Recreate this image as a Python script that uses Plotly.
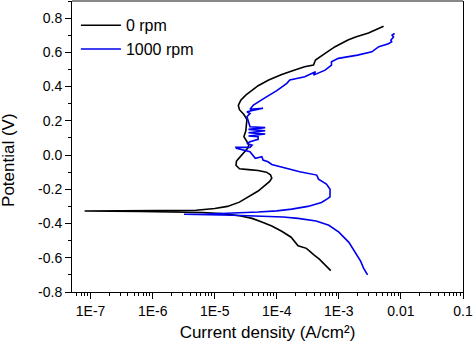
import plotly.graph_objects as go

# ---- data (current density A/cm^2, potential V) ----
rpm0_i = [7.4e-4, 5.6e-4, 4.8e-4, 4.0e-4, 3.3e-4, 3.0e-4, 2.2e-4, 1.7e-4, 1.2e-4, 8.3e-5,
          5.6e-5, 4.0e-5, 2.5e-5, 1.9e-5, 1.26e-5, 6.3e-6, 2.5e-6, 6.3e-7, 8.0e-8,
          6.3e-7, 2.5e-6, 5.0e-6, 1.0e-5, 1.6e-5, 2.5e-5, 3.5e-5, 5.0e-5, 6.3e-5, 7.6e-5,
          8.3e-5, 7.9e-5, 6.8e-5, 5.0e-5, 3.5e-5, 2.5e-5, 2.2e-5, 2.24e-5, 2.5e-5, 3.0e-5,
          3.4e-5, 3.55e-5, 3.3e-5, 2.95e-5, 3.16e-5, 3.24e-5, 3.3e-5, 2.95e-5, 2.5e-5, 2.4e-5,
          2.63e-5, 3.16e-5, 3.98e-5, 5.0e-5, 7.4e-5, 1.2e-4, 2.0e-4, 2.8e-4, 3.9e-4, 4.2e-4,
          6.0e-4, 8.7e-4, 1.4e-3, 1.86e-3, 3.0e-3, 4.9e-3, 5.25e-3]
rpm0_v = [-0.675, -0.630, -0.607, -0.585, -0.560, -0.545, -0.530, -0.480, -0.445, -0.415,
          -0.390, -0.370, -0.355, -0.350, -0.342, -0.336, -0.332, -0.329, -0.327,
          -0.326, -0.325, -0.322, -0.312, -0.300, -0.275, -0.245, -0.210, -0.180, -0.155,
          -0.135, -0.115, -0.100, -0.090, -0.085, -0.080, -0.060, -0.035, -0.015, 0.015,
          0.040, 0.060, 0.080, 0.108, 0.140, 0.167, 0.207, 0.237, 0.265, 0.290,
          0.321, 0.350, 0.380, 0.405, 0.438, 0.470, 0.498, 0.516, 0.526, 0.555,
          0.594, 0.633, 0.672, 0.690, 0.713, 0.745, 0.752]

rpm1000_i = [2.9e-3, 2.5e-3, 2.24e-3, 1.78e-3, 1.45e-3, 1.0e-3, 6.9e-4, 4.3e-4, 2.2e-4,
             1.26e-4, 5.0e-5, 2.0e-5, 7.9e-6, 3.2e-6,
             7.9e-6, 2.0e-5, 5.0e-5, 1.0e-4, 1.74e-4, 3.16e-4, 5.25e-4, 6.6e-4, 7.2e-4,
             7.2e-4, 6.8e-4, 6.3e-4, 4.7e-4, 4.4e-4, 2.34e-4, 1.12e-4, 8.3e-5, 7.2e-5,
             6.0e-5, 5.75e-5, 4.5e-5, 3.7e-5, 2.24e-5, 2.2e-5, 3.7e-5, 4.0e-5, 3.3e-5,
             3.7e-5, 5.0e-5, 5.0e-5, 3.5e-5, 6.5e-5, 3.5e-5, 6.5e-5, 3.5e-5, 6.5e-5,
             3.7e-5, 3.5e-5, 3.3e-5, 3.7e-5, 3.3e-5, 6.0e-5, 3.7e-5, 4.2e-5, 5.8e-5,
             6.9e-5, 1.0e-4, 1.45e-4, 1.62e-4, 2.3e-4, 2.82e-4, 4.2e-4, 3.9e-4, 6.0e-4,
             7.6e-4, 7.6e-4, 9.8e-4, 2.0e-3, 3.4e-3, 4.4e-3, 6.3e-3, 7.1e-3, 6.9e-3,
             7.6e-3, 7.2e-3, 7.9e-3]
rpm1000_v = [-0.700, -0.660, -0.620, -0.565, -0.510, -0.450, -0.410, -0.385, -0.370,
             -0.362, -0.356, -0.352, -0.349, -0.346,
             -0.344, -0.340, -0.333, -0.326, -0.316, -0.300, -0.277, -0.255, -0.244,
             -0.200, -0.185, -0.170, -0.141, -0.117, -0.097, -0.064, -0.055, -0.039,
             -0.029, -0.010, -0.019, 0.019, 0.039, 0.045, 0.045, 0.058, 0.068,
             0.078, 0.092, 0.107, 0.111, 0.123, 0.130, 0.142, 0.150, 0.160,
             0.165, 0.195, 0.224, 0.243, 0.253, 0.273, 0.267, 0.292, 0.321,
             0.341, 0.376, 0.419, 0.438, 0.448, 0.457, 0.487, 0.467, 0.496,
             0.526, 0.545, 0.565, 0.584, 0.603, 0.633, 0.650, 0.662, 0.672,
             0.690, 0.700, 0.711]

x_tickvals = [1e-7, 1e-6, 1e-5, 1e-4, 1e-3, 1e-2, 1e-1]
x_ticktext = ["1E-7", "1E-6", "1E-5", "1E-4", "1E-3", "0.01", "0.1"]
y_tickvals = [-0.8, -0.6, -0.4, -0.2, 0.0, 0.2, 0.4, 0.6, 0.8]
y_ticktext = ["-0.8", "-0.6", "-0.4", "-0.2", "0.0", "0.2", "0.4", "0.6", "0.8"]

FONT = "Liberation Sans, Arial, sans-serif"

fig = go.Figure()
fig.add_trace(go.Scatter(x=rpm0_i, y=rpm0_v, mode="lines", name="0 rpm",
                         line=dict(color="black", width=1.6)))
fig.add_trace(go.Scatter(x=rpm1000_i, y=rpm1000_v, mode="lines", name="1000 rpm",
                         line=dict(color="#0000ee", width=1.6)))

fig.update_layout(
    width=474, height=346,
    margin=dict(l=72, r=11, t=1, b=54),
    plot_bgcolor="white", paper_bgcolor="white",
    font=dict(family=FONT, color="black", size=14),
    showlegend=True,
    legend=dict(x=0.01, y=0.975, xanchor="left", yanchor="top",
                bgcolor="rgba(0,0,0,0)", font=dict(size=16),
                tracegroupgap=0, itemwidth=40),
    xaxis=dict(type="log", range=[-7.3, -1], showgrid=False, zeroline=False,
               showline=True, linecolor="black", linewidth=1, mirror=False,
               tickvals=x_tickvals, ticktext=x_ticktext,
               ticks="outside", ticklen=6, tickwidth=1, tickcolor="black",
               tickfont=dict(size=14),
               minor=dict(ticks="outside", ticklen=3, dtick="D1", tickcolor="black",
                          showgrid=False),
               title=dict(text="Current density (A/cm²)", font=dict(size=17), standoff=8)),
    yaxis=dict(range=[-0.8, 0.9], showgrid=False, zeroline=False,
               showline=True, linecolor="black", linewidth=1, mirror=True,
               tickvals=y_tickvals, ticktext=y_ticktext,
               ticks="outside", ticklen=6, tickwidth=1, tickcolor="black",
               tickfont=dict(size=14),
               minor=dict(ticks="outside", ticklen=3, dtick=0.1, tickcolor="black",
                          showgrid=False)),
)

# top frame line (greyish in the reference)
fig.add_shape(type="line", xref="paper", yref="paper", x0=0, x1=1, y0=1, y1=1,
              line=dict(color="#888888", width=2))

# y axis title
fig.add_annotation(text="Potential (V)", textangle=-90, xref="paper", yref="paper",
                   x=-0.161, y=0.454, showarrow=False, font=dict(size=17),
                   xanchor="center", yanchor="middle")

fig.write_html("out.html")
